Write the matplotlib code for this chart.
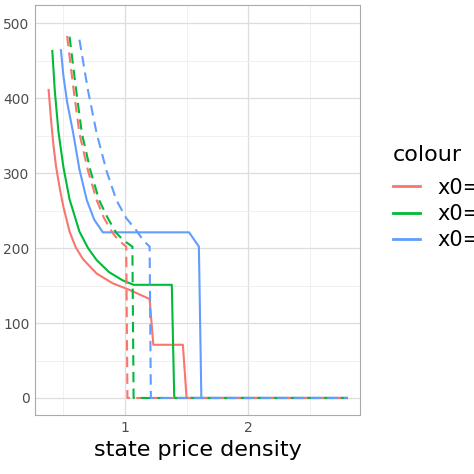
import numpy as np
import matplotlib.pyplot as plt
from matplotlib.lines import Line2D

RED, GREEN, BLUE = '#F8766D', '#00BA38', '#619CFF'
X_END = 2.8

# solid curves
red_x = [0.38, 0.40, 0.42, 0.44, 0.47, 0.50, 0.55, 0.60, 0.66, 0.77, 0.90, 1.04, 1.20, 1.23, 1.47, 1.50, X_END]
red_y = [411, 370, 336, 309, 280, 255, 222, 201, 185, 166, 153, 144, 132, 71, 71, 0, 0]
green_x = [0.41, 0.43, 0.46, 0.50, 0.55, 0.63, 0.70, 0.77, 0.87, 0.98, 1.07, 1.38, 1.40, X_END]
green_y = [463, 410, 355, 308, 265, 222, 200, 184, 168, 157, 151, 151, 0, 0]
blue_x = [0.48, 0.50, 0.53, 0.58, 0.63, 0.69, 0.75, 0.82, 1.52, 1.60, 1.62, X_END]
blue_y = [464, 430, 395, 353, 305, 264, 238, 221, 221, 202, 0, 0]

# dashed curves
red_dx = [0.53, 0.58, 0.63, 0.70, 0.77, 0.83, 0.90, 0.95, 1.01, 1.02, X_END]
red_dy = [483, 415, 353, 303, 264, 240, 220, 210, 202, 0, 0]
green_dx = [0.55, 0.60, 0.65, 0.72, 0.79, 0.86, 0.93, 0.99, 1.06, 1.07, X_END]
green_dy = [482, 415, 353, 303, 264, 240, 220, 210, 202, 0, 0]
blue_dx = [0.63, 0.70, 0.77, 0.85, 0.93, 1.01, 1.09, 1.15, 1.20, 1.21, X_END]
blue_dy = [478, 410, 353, 303, 264, 240, 224, 210, 202, 0, 0]

labels = ['x0=1', 'x0=2', 'x0=3']

fig = plt.figure(figsize=(4.74, 4.74), dpi=100)
ax = fig.add_axes([0.074, 0.124, 0.686, 0.865])

for (x, y), c in zip([(red_x, red_y), (green_x, green_y), (blue_x, blue_y)], [RED, GREEN, BLUE]):
    ax.plot(x, y, color=c, lw=1.5)
for (x, y), c in zip([(red_dx, red_dy), (green_dx, green_dy), (blue_dx, blue_dy)], [RED, GREEN, BLUE]):
    ax.plot(x, y, color=c, lw=1.5, ls=(0, (5, 3)))

ax.set_xlim(0.27, 2.91)
ax.set_ylim(-23, 524)
ax.set_xticks([1, 2])
ax.set_yticks([0, 100, 200, 300, 400, 500])
ax.set_xticks([0.5, 1.5, 2.5], minor=True)
ax.set_yticks([50, 150, 250, 350, 450], minor=True)
ax.grid(True, which='major', color='#DDDDDD', lw=0.9)
ax.grid(True, which='minor', color='#EEEEEE', lw=0.6)
ax.set_axisbelow(True)
for s in ax.spines.values():
    s.set_color('#AAAAAA')
ax.tick_params(which='both', length=0, labelsize=10, labelcolor='#4D4D4D', pad=4)
ax.set_xlabel('state price density', fontsize=16, labelpad=4)

handles = [Line2D([], [], color=c, lw=2) for c in [RED, GREEN, BLUE]]
leg = fig.legend(handles, labels, title='colour', loc='upper left', bbox_to_anchor=(0.79, 0.72),
                 frameon=False, fontsize=15, title_fontsize=16, handlelength=1.3,
                 alignment='left', labelspacing=0.3)
leg.get_title().set_position((0, 6))

fig.savefig('out.png', dpi=100)
